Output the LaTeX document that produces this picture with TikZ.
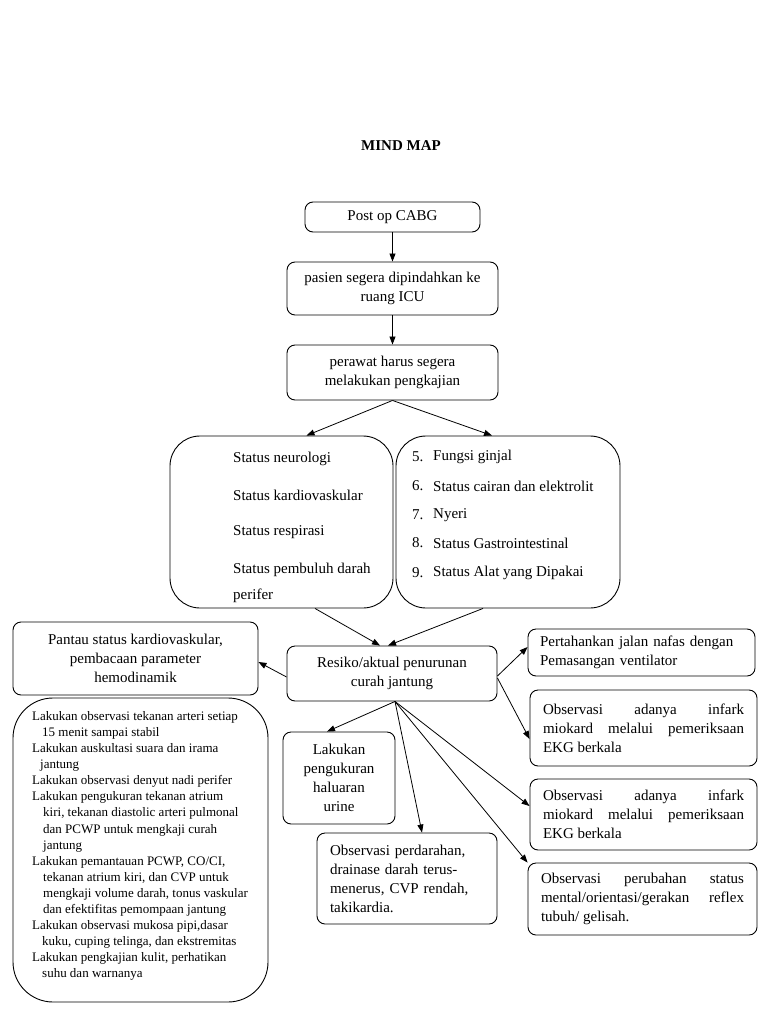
\documentclass[tikz,border=0pt]{standalone}
\usepackage{fontspec}
\setmainfont{Liberation Serif}
\usetikzlibrary{arrows.meta}
\begin{document}
\begin{tikzpicture}[x=1pt,y=-1pt,
  box/.style={draw, line width=0.9pt, rounded corners=8pt, inner sep=0pt,
    font=\fontsize{15}{19}\selectfont, align=center},
  txt/.style={font=\fontsize{15}{19}\selectfont, inner sep=0pt, anchor=west},
  arr/.style={-{Triangle[length=8pt,width=6pt]}, line width=0.8pt}]
\useasboundingbox[fill=white] (0,0) rectangle (768,1024);

\node[font=\bfseries\fontsize{15}{18}\selectfont] (title) at (401,146) {MIND MAP};

\node[box, minimum width=175, minimum height=30] (b1) at (392.5,217) {Post op CABG};
\node[box, minimum width=211, minimum height=53] (b2) at (392.5,288.5) {pasien segera dipindahkan ke\\ruang ICU};
\node[box, minimum width=211, minimum height=55] (b3) at (392.5,372.5) {perawat harus segera\\melakukan pengkajian};

\node[box, rounded corners=30pt, minimum width=223, minimum height=172] (sL) at (281.5,522) {};
\node[box, rounded corners=30pt, minimum width=224, minimum height=172] (sR) at (508,522) {};

\node[txt] (l1) at (233,459) {Status neurologi};
\node[txt] (l2) at (233,495) {Status kardiovaskular};
\node[txt] (l3) at (233,532) {Status respirasi};
\node[txt] (l4) at (233,570) {Status pembuluh darah};
\node[txt] (l5) at (233,596) {perifer};

\node[txt] (n5) at (412,457) {5.};
\node[txt] (r5) at (433,457) {Fungsi ginjal};
\node[txt] (n6) at (412,486) {6.};
\node[txt] (r6) at (433,486) {Status cairan dan elektrolit};
\node[txt] (n7) at (412,515) {7.};
\node[txt] (r7) at (433,515) {Nyeri};
\node[txt] (n8) at (412,543) {8.};
\node[txt] (r8) at (433,543) {Status Gastrointestinal};
\node[txt] (n9) at (412,573) {9.};
\node[txt] (r9) at (433,573) {Status Alat yang Dipakai};

\node[box, minimum width=210, minimum height=55] (res) at (392,673.5) {Resiko/aktual penurunan\\curah jantung};
\node[box, minimum width=245, minimum height=73] (pan) at (135.5,658.5) {Pantau status kardiovaskular,\\pembacaan parameter\\hemodinamik};

\node[box, rounded corners=40pt, minimum width=255, minimum height=304] (big) at (140.5,850) {};
\node[anchor=west, inner sep=0pt, align=left, font=\fontsize{13}{16.1}\selectfont] (bigtxt) at (32,846) {%
Lakukan observasi tekanan arteri setiap\\
\hspace*{10pt}15 menit sampai stabil\\
Lakukan auskultasi suara dan irama\\
\hspace*{8pt}jantung\\
Lakukan observasi denyut nadi perifer\\
Lakukan pengukuran tekanan atrium\\
\hspace*{11pt}kiri, tekanan diastolic arteri pulmonal\\
\hspace*{11pt}dan PCWP untuk mengkaji curah\\
\hspace*{11pt}jantung\\
Lakukan pemantauan PCWP, CO/CI,\\
\hspace*{11pt}tekanan atrium kiri, dan CVP untuk\\
\hspace*{11pt}mengkaji volume darah, tonus vaskular\\
\hspace*{11pt}dan efektifitas pemompaan jantung\\
Lakukan observasi mukosa pipi,dasar\\
\hspace*{10pt}kuku, cuping telinga, dan ekstremitas\\
Lakukan pengkajian kulit, perhatikan\\
\hspace*{10pt}suhu dan warnanya};

\node[box, minimum width=112, minimum height=92] (luk) at (339,778) {Lakukan\\pengukuran\\haluaran\\urine};
\node[box, minimum width=180, minimum height=91, text width=154, align=left] (opd) at (407,878.5)
  {Observasi perdarahan,\\drainase darah terus-\\menerus, CVP rendah,\\takikardia.};

\node[box, minimum width=227, minimum height=47, text width=203, align=left] (per) at (641.5,652.5)
  {Pertahankan jalan nafas dengan\\Pemasangan ventilator};
\node[box, minimum width=227, minimum height=76, text width=201, align=justify] (o1) at (643.5,728)
  {Observasi adanya infark\linebreak miokard melalui pemeriksaan\linebreak EKG berkala};
\node[box, minimum width=227, minimum height=71, text width=201, align=justify] (o2) at (643.5,814.5)
  {Observasi adanya infark\linebreak miokard melalui pemeriksaan\linebreak EKG berkala};
\node[box, minimum width=229, minimum height=72, text width=203, align=justify] (o3) at (642.5,899)
  {Observasi perubahan status\linebreak mental/orientasi/gerakan reflex\linebreak tubuh/ gelisah.};

% connectors
\draw[arr] (b1.south) -- (b2.north);
\draw[arr] (b2.south) -- (b3.north);
\draw[arr] (b3.south) -- ([xshift=25pt]sL.north);
\draw[arr] (b3.south) -- ([xshift=-16pt]sR.north);
\draw[arr] ([xshift=33.5pt]sL.south) -- ([xshift=-12pt]res.north);
\draw[arr] ([xshift=-25pt]sR.south) -- ([xshift=-4pt]res.north);
\draw[arr] ([yshift=-3.5pt]res.west) -- ([yshift=-3.5pt]pan.east);
\draw[arr] ([yshift=-2.5pt]res.east) -- ([yshift=5.5pt]per.west);
\draw[arr] ([yshift=-4.5pt]res.east) -- ([yshift=-11pt]o1.west);
\draw[arr] ([xshift=3pt]res.south) -- ([xshift=-12pt]luk.north);
\draw[arr] ([xshift=3pt]res.south) -- ([xshift=15pt]opd.north);
\draw[arr] ([xshift=3pt]res.south) -- ([yshift=8.5pt]o2.west);
\draw[arr] ([xshift=3pt]res.south) -- (o3.north west);
\end{tikzpicture}
\end{document}
